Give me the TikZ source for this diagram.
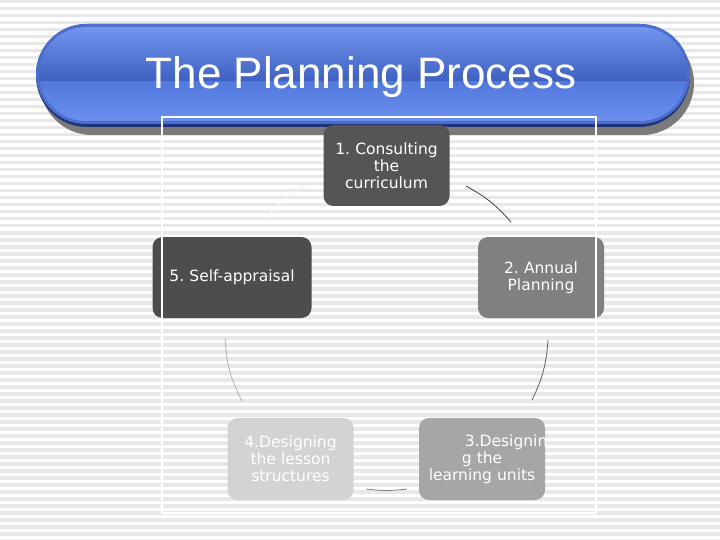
\documentclass[tikz,border=0pt]{standalone}
\usepackage{fontspec}
\newfontfamily\titlefont{Liberation Sans}
\newfontfamily\stepfont{DejaVu Sans}
\definecolor{stripegray}{HTML}{E8E8E8}
\definecolor{barshadow}{HTML}{7A7A7A}
\definecolor{barnavy}{HTML}{1F3378}
\definecolor{barrim}{HTML}{4B6DCB}
\definecolor{bartop}{HTML}{7196EE}
\definecolor{barmid}{HTML}{3E5FC0}
\definecolor{barlow}{HTML}{5279DC}
\definecolor{barbottom}{HTML}{6A8FEE}
\definecolor{stepone}{HTML}{555555}
\definecolor{steptwo}{HTML}{808080}
\definecolor{stepthree}{HTML}{A6A6A6}
\definecolor{stepfour}{HTML}{D3D3D3}
\definecolor{stepfive}{HTML}{4D4D4D}

\begin{document}
\begin{tikzpicture}[x=1pt,y=-1pt,
  stepbox/.style={rectangle,rounded corners=10pt,text width=121pt,minimum height=81pt,
    text=white,align=center,inner sep=2.5pt,font=\stepfont\fontsize{15.5}{17}\selectfont\frenchspacing},
  arcline/.style={line width=0.8pt}]
\useasboundingbox (0,0) rectangle (720,540);
% striped background
\fill[white] (0,0) rectangle (720,540);
\foreach \y in {0,7,...,539}
  \fill[stripegray] (0,\y) rectangle (720,\y+3.5);

% title bar
\fill[barshadow,rounded corners=52pt] (40,31) rectangle (694,135);
\fill[barnavy,rounded corners=51pt] (36,24) rectangle (690,127);
\fill[barrim,rounded corners=50pt] (36,24) rectangle (690,124);
\begin{scope}
  \clip[rounded corners=47pt] (39,27) rectangle (687,121);
  \shade[top color=bartop,bottom color=barmid] (36,27) rectangle (690,82);
  \shade[top color=barlow,bottom color=barbottom] (36,82) rectangle (690,121);
\end{scope}
\node (title) at (361,77) [text=white,font=\titlefont\fontsize{44}{50}\selectfont] {The Planning Process};

% the five steps
\node at (386.5,165.5) (consult) [stepbox,fill=stepone] {1. Consulting\\the\\curriculum};
\node at (541,277.5) (annual) [stepbox,fill=steptwo] {2. Annual\\Planning};
\node at (482,459) (units) [stepbox,fill=stepthree,minimum height=82pt] {\mbox{\hspace*{2.8em}3.Designin}\\g the\\learning units};
\node at (290.5,459) (lesson) [stepbox,fill=stepfour,minimum height=82pt] {4.Designing\\the lesson\\structures};
\node at (232,277.5) (appraisal) [stepbox,fill=stepfive,text width=154pt] {5. Self-appraisal};

% arcs of the cycle
\coordinate (c1a) at (466,186);
\coordinate (c1b) at (511,222);
\coordinate (c2a) at (548,340);
\coordinate (c2b) at (532,400);
\coordinate (c3a) at (407,489);
\coordinate (c3b) at (366,489);
\coordinate (c4a) at (242,401);
\coordinate (c4b) at (225,338);
\coordinate (c5a) at (262,221);
\coordinate (c5b) at (305,186);
\draw[arcline,black!75] (c1a) to[bend left=10] (c1b);
\draw[arcline,black!62] (c2a) to[bend left=11] (c2b);
\draw[arcline,black!50] (c3a) to[bend left=7] (c3b);
\draw[arcline,black!30] (c4a) to[bend left=12] (c4b);
\draw[arcline,black!4] (c5a) to[bend left=10] (c5b);

% frame
\draw[white,line width=2pt] (162,117) rectangle (596,513);
\end{tikzpicture}
\end{document}
